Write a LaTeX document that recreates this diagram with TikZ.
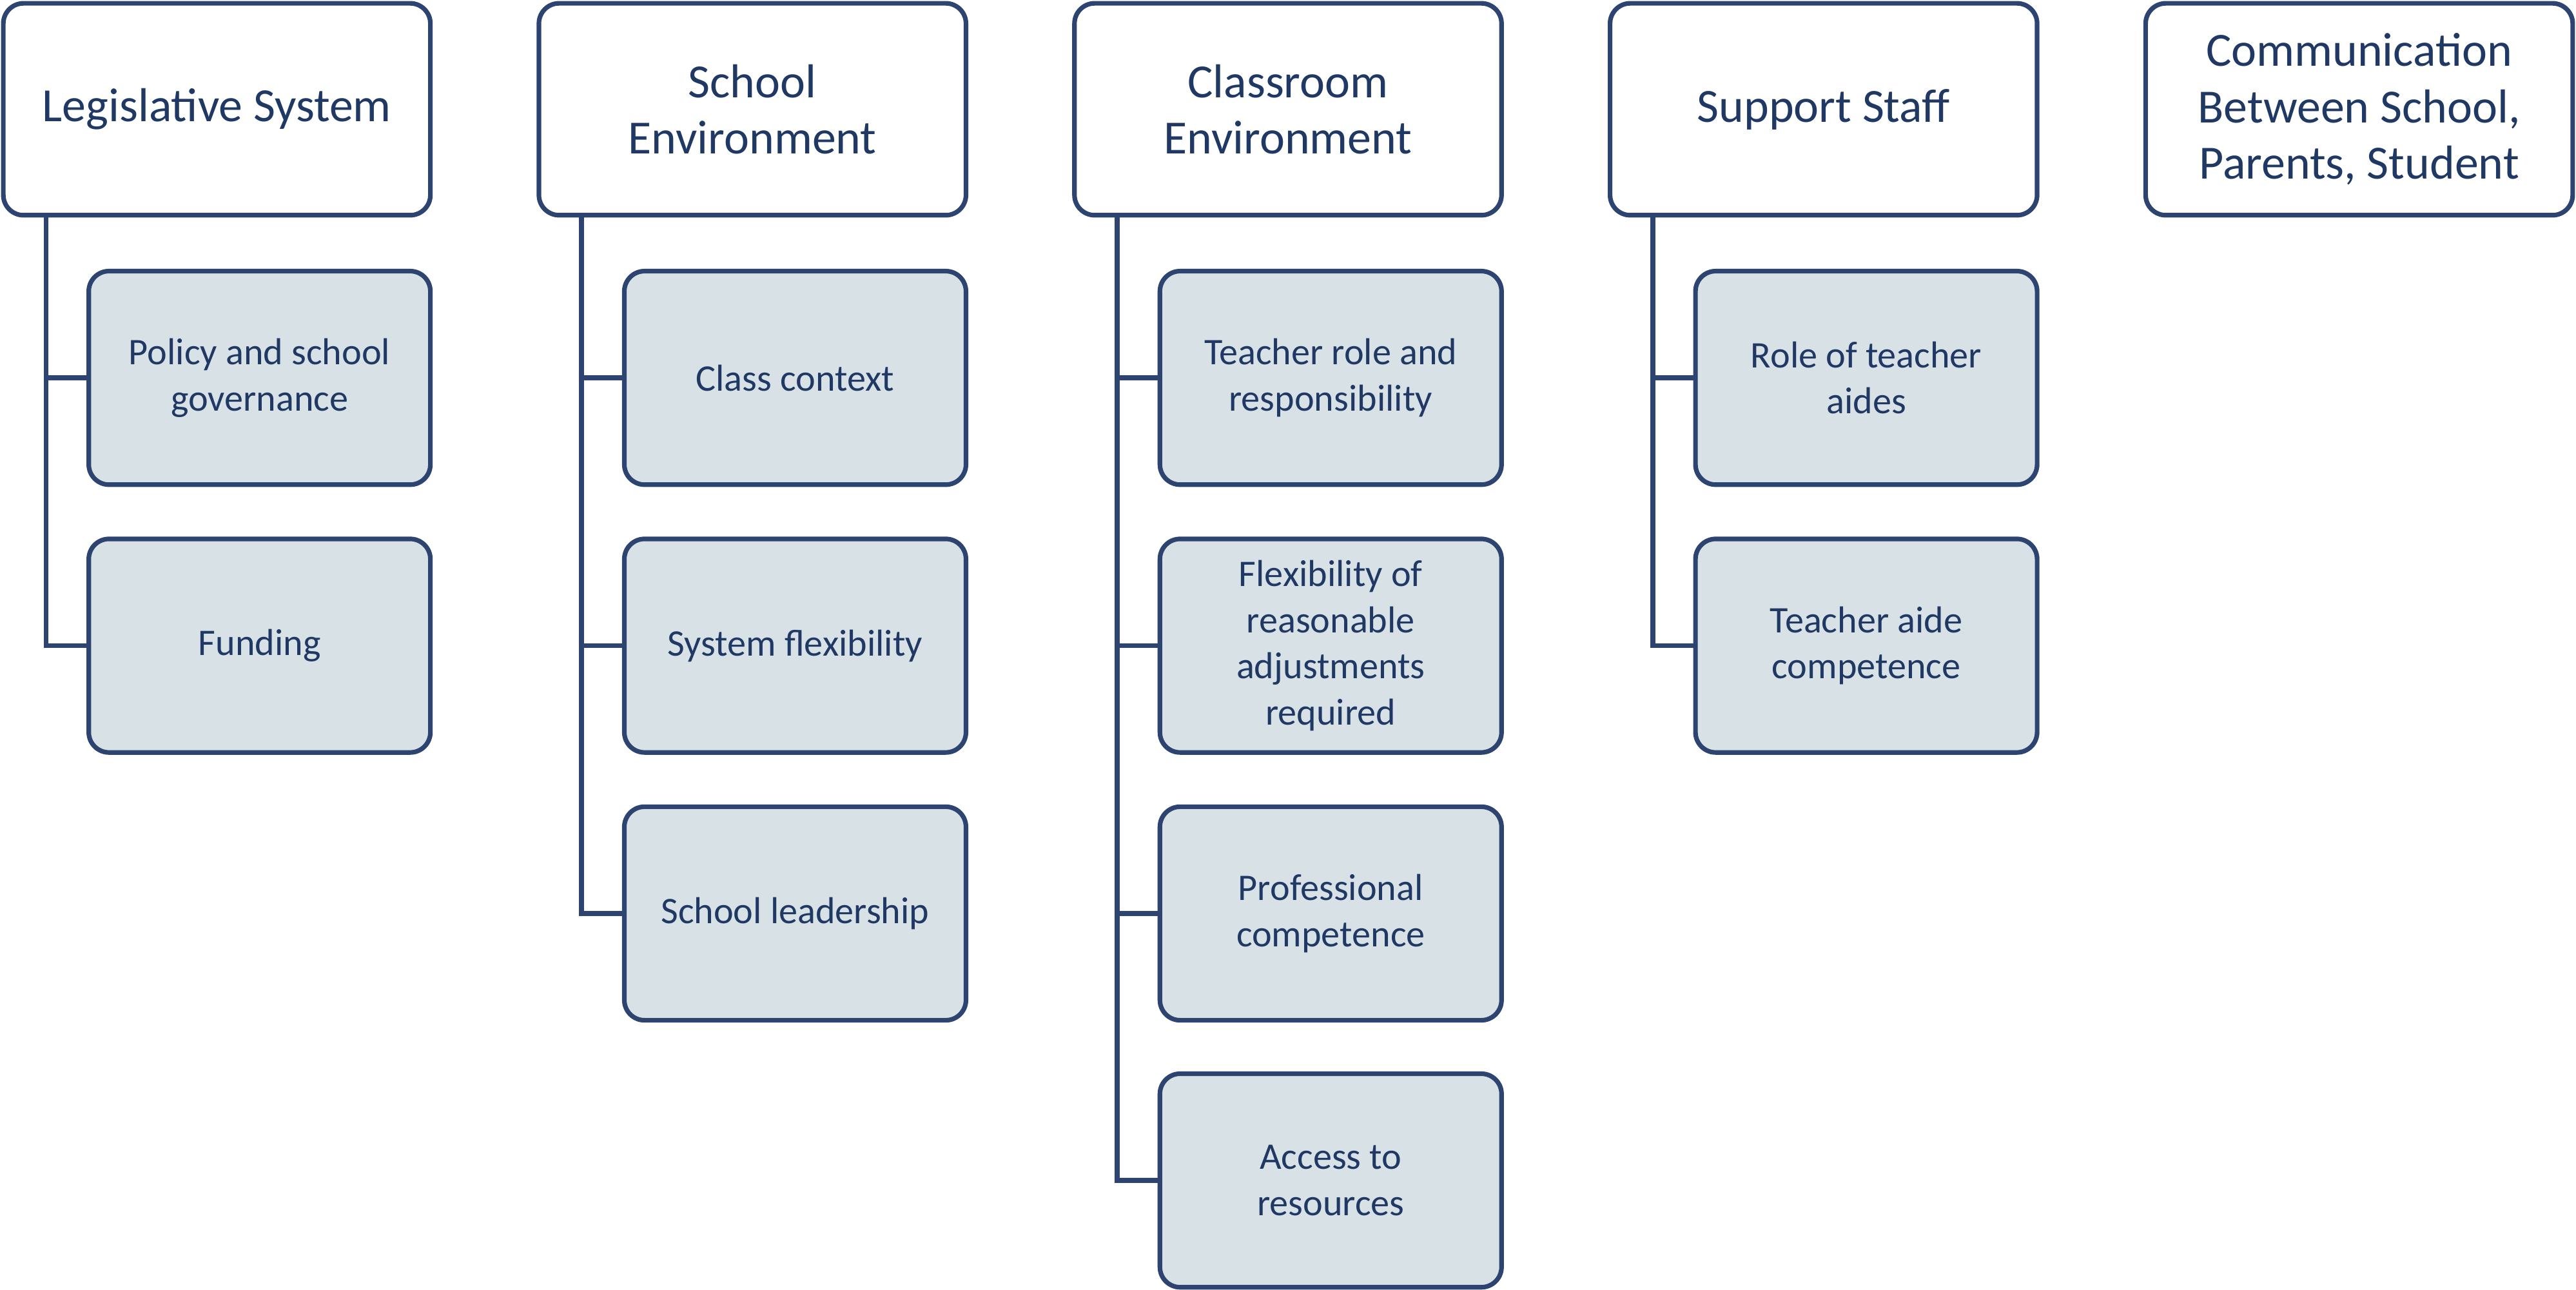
\documentclass[tikz,border=0pt]{standalone}
\usepackage{fontspec}
\setmainfont{Carlito}
\definecolor{bord}{HTML}{2E4470}
\definecolor{txt}{HTML}{1F3864}
\definecolor{cfill}{HTML}{D8E1E5}
\begin{document}
\begin{tikzpicture}[x=0.02cm,y=-0.02cm,
  top/.style={draw=bord,line width=1.6pt,rounded corners=7pt,fill=white,text=txt,minimum width=5.2cm,minimum height=2.58cm,align=center,font=\fontsize{16.5}{19.5}\selectfont,inner sep=1pt},
  sub/.style={draw=bord,line width=1.6pt,rounded corners=7pt,fill=cfill,text=txt,minimum width=4.16cm,minimum height=2.6cm,align=center,font=\fontsize{13}{16}\selectfont,inner sep=1pt},
  conn/.style={draw=bord,line width=1.7pt}]
\useasboundingbox (0,0) rectangle (1568,785);
\node[top] (t1) at (132,66.5) {Legislative System};
\node[top] (t2) at (458,66.5) {School\\Environment};
\node[top] (t3) at (784,66.5) {Classroom\\Environment};
\node[top] (t4) at (1110,66.5) {Support Staff};
\node[top] (t5) at (1436,66.5) {Communication\\Between School,\\Parents, Student};
\node[sub] (a1) at (158,230) {Policy and school\\governance};
\node[sub] (a2) at (158,393) {Funding};
\node[sub] (b1) at (484,230) {Class context};
\node[sub] (b2) at (484,393) {System flexibility};
\node[sub] (b3) at (484,556) {School leadership};
\node[sub] (c1) at (810,230) {Teacher role and\\responsibility};
\node[sub] (c2) at (810,393) {Flexibility of\\reasonable\\adjustments\\required};
\node[sub] (c3) at (810,556) {Professional\\competence};
\node[sub] (c4) at (810,718.5) {Access to\\resources};
\node[sub] (d1) at (1136,230) {Role of teacher\\aides};
\node[sub] (d2) at (1136,393) {Teacher aide\\competence};
\foreach \t/\xx/\list in {t1/28/{a1,a2},t2/354/{b1,b2,b3},t3/680/{c1,c2,c3,c4},t4/1006/{d1,d2}}{
  \foreach \c in \list {
    \draw[conn] (\t.south -| \xx,0) |- (\c.west);
  }
}
\end{tikzpicture}
\end{document}
